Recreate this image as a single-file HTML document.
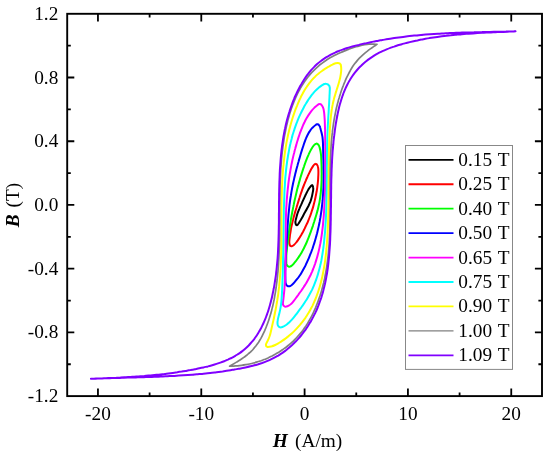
<!DOCTYPE html>
<html><head><meta charset="utf-8"><title>B-H hysteresis loops</title>
<style>html,body{margin:0;padding:0;background:#fff}svg{display:block}</style></head>
<body>
<svg width="550" height="456" viewBox="0 0 550 456">
<rect width="550" height="456" fill="#fff"/>
<g fill="none" stroke-width="2" stroke-linejoin="round" stroke-linecap="round">
<path d="M301.1 204.9C301.6 203.7 302.2 202.4 302.7 201.2C303.3 200.0 303.8 198.7 304.4 197.5C305.0 196.2 305.6 194.8 306.3 193.5C306.9 192.2 307.6 190.9 308.3 189.6C309.0 188.5 309.7 187.4 310.8 186.3C311.1 185.8 311.6 185.3 312.0 185.2C312.1 185.1 312.2 185.1 312.3 185.2C312.4 185.2 312.5 185.3 312.6 185.5C312.9 185.9 313.0 186.6 313.1 187.2C313.3 188.1 313.3 189.0 313.2 189.8C313.0 191.2 312.7 192.6 312.4 194.1C312.2 195.4 311.9 196.7 311.5 198.0C311.2 199.3 310.8 200.6 310.3 201.9C309.8 203.1 309.2 204.3 308.7 205.5C308.1 206.7 307.4 207.9 306.8 209.1C306.1 210.2 305.4 211.4 304.8 212.6C304.1 213.8 303.5 215.0 302.9 216.2C302.3 217.4 301.6 218.5 300.9 219.7C300.1 220.9 299.3 222.2 298.6 223.5C298.3 223.9 298.0 224.3 297.6 224.7C297.5 224.8 297.3 224.9 297.2 225.0C297.0 225.1 296.9 225.2 296.7 225.2C296.6 225.2 296.5 225.1 296.4 225.0C296.1 224.9 296.0 224.5 295.8 224.2C295.6 223.6 295.5 223.0 295.4 222.5C295.4 221.7 295.4 221.1 295.6 220.4C295.9 219.0 296.4 217.6 296.7 216.1C297.1 214.8 297.5 213.5 297.9 212.3C298.4 211.0 298.9 209.8 299.4 208.6C299.9 207.3 300.5 206.1 301.1 204.9Z" stroke="#000000"/>
<path d="M297.3 204.9C297.7 203.6 298.1 202.4 298.5 201.1C298.9 199.8 299.3 198.5 299.7 197.3C300.1 196.0 300.5 194.7 300.9 193.5C301.4 192.1 301.9 190.6 302.4 189.2C302.9 187.8 303.4 186.4 304.0 185.0C304.5 183.6 305.1 182.2 305.7 180.8C306.2 179.5 306.8 178.1 307.5 176.7C308.0 175.5 308.6 174.3 309.2 173.1C309.8 171.9 310.4 170.7 311.0 169.6C311.7 168.4 312.3 167.2 313.1 166.1C313.4 165.5 313.8 165.0 314.4 164.5C314.7 164.3 315.0 164.1 315.3 164.0C315.4 163.9 315.6 163.9 315.7 163.9C315.9 163.8 316.0 163.9 316.2 163.9C316.3 164.0 316.4 164.1 316.6 164.2C316.8 164.4 317.0 164.6 317.2 165.0C317.6 165.6 317.9 166.3 318.0 166.9C318.4 168.4 318.4 169.9 318.4 171.4C318.4 172.9 318.4 174.4 318.3 175.9C318.2 177.2 318.2 178.5 318.1 179.9C318.0 181.2 317.8 182.5 317.7 183.8C317.5 185.2 317.4 186.5 317.2 187.8C317.0 189.1 316.8 190.5 316.6 191.8C316.3 193.1 316.1 194.4 315.8 195.7C315.6 197.0 315.3 198.3 315.0 199.6C314.7 200.9 314.4 202.2 314.0 203.5C313.7 204.8 313.4 206.1 313.0 207.4C312.6 208.8 312.1 210.3 311.6 211.7C311.2 213.1 310.7 214.5 310.2 215.9C309.6 217.3 309.1 218.7 308.5 220.1C308.0 221.5 307.4 222.9 306.7 224.2C306.2 225.4 305.6 226.6 305.0 227.8C304.4 229.1 303.8 230.2 303.2 231.4C302.5 232.6 301.9 233.8 301.2 235.0C300.5 236.1 299.8 237.3 299.1 238.4C298.3 239.7 297.5 240.9 296.6 242.0C295.8 243.0 295.0 244.0 293.9 244.9C293.3 245.4 292.6 245.9 292.0 246.2C291.8 246.2 291.7 246.3 291.5 246.3C291.4 246.3 291.2 246.3 291.1 246.3C291.0 246.3 290.8 246.2 290.7 246.1C290.5 246.0 290.2 245.7 290.0 245.4C289.8 245.0 289.6 244.4 289.5 243.9C289.3 243.1 289.3 242.2 289.3 241.4C289.4 239.9 289.6 238.4 289.8 236.9C289.9 235.4 290.1 234.0 290.4 232.5C290.6 231.0 290.9 229.5 291.1 228.1C291.4 226.6 291.8 225.1 292.1 223.7C292.4 222.2 292.8 220.8 293.2 219.3C293.5 217.9 293.9 216.4 294.3 215.0C294.7 213.7 295.0 212.4 295.4 211.1C295.8 209.9 296.2 208.6 296.6 207.3C296.8 206.5 297.0 205.7 297.3 204.9Z" stroke="#ff0000"/>
<path d="M293.7 204.9C293.9 203.6 294.2 202.3 294.5 201.0C294.8 199.7 295.1 198.4 295.4 197.1C295.7 195.8 296.0 194.5 296.3 193.2C296.6 191.9 296.9 190.6 297.2 189.3C297.6 188.0 297.9 186.7 298.3 185.4C298.6 184.2 298.9 182.9 299.3 181.6C299.7 180.3 300.0 179.0 300.4 177.7C300.8 176.5 301.2 175.2 301.6 173.9C302.0 172.6 302.4 171.4 302.8 170.1C303.2 168.8 303.6 167.6 304.1 166.3C304.5 165.0 305.0 163.8 305.4 162.5C305.9 161.3 306.3 160.0 306.8 158.8C307.4 157.4 307.9 156.0 308.6 154.6C309.2 153.3 309.8 151.9 310.5 150.6C311.2 149.3 312.0 148.0 312.8 146.8C313.4 145.9 314.0 145.1 314.8 144.5C315.1 144.2 315.4 144.0 315.7 143.9C315.8 143.8 316.0 143.7 316.1 143.7C316.3 143.7 316.4 143.6 316.6 143.6C316.8 143.6 316.9 143.7 317.1 143.7C317.4 143.8 317.7 144.0 317.9 144.3C318.2 144.5 318.4 144.8 318.6 145.0C319.2 145.9 319.4 146.9 319.7 147.9C320.1 149.2 320.4 150.5 320.6 151.8C320.8 153.1 321.0 154.4 321.1 155.7C321.2 157.1 321.3 158.4 321.3 159.7C321.4 161.1 321.4 162.4 321.5 163.8C321.5 165.1 321.6 166.4 321.6 167.8C321.6 169.1 321.6 170.5 321.6 171.8C321.7 173.1 321.7 174.5 321.6 175.8C321.6 177.3 321.6 178.8 321.6 180.3C321.5 181.8 321.5 183.3 321.4 184.8C321.3 186.3 321.2 187.8 321.1 189.3C321.0 190.7 320.8 192.2 320.7 193.7C320.5 195.2 320.3 196.7 320.1 198.2C319.9 199.6 319.6 201.1 319.4 202.6C319.1 203.9 318.8 205.2 318.5 206.5C318.2 207.8 317.9 209.1 317.6 210.4C317.2 211.7 316.9 213.0 316.5 214.3C316.1 215.6 315.7 216.8 315.3 218.1C314.9 219.4 314.5 220.7 314.1 222.0C313.7 223.2 313.3 224.5 312.9 225.8C312.4 227.2 311.9 228.6 311.4 230.0C310.9 231.4 310.4 232.8 309.9 234.2C309.4 235.6 308.9 237.0 308.3 238.4C307.7 239.8 307.2 241.1 306.6 242.5C306.0 243.9 305.4 245.2 304.7 246.5C304.1 247.9 303.4 249.2 302.7 250.5C302.0 251.7 301.4 252.9 300.7 254.0C300.0 255.2 299.2 256.3 298.5 257.4C297.7 258.5 297.0 259.6 296.2 260.7C295.3 261.8 294.5 262.8 293.6 263.8C292.9 264.6 292.3 265.4 291.4 265.9C291.0 266.2 290.6 266.4 290.1 266.6C289.7 266.6 289.4 266.7 289.0 266.7C288.9 266.6 288.7 266.6 288.6 266.6C288.2 266.5 288.0 266.3 287.7 266.1C287.4 265.8 287.2 265.6 287.0 265.3C286.8 264.8 286.6 264.3 286.5 263.9C286.2 262.5 286.3 261.2 286.3 259.8C286.3 258.5 286.3 257.1 286.3 255.8C286.4 254.3 286.5 252.8 286.7 251.3C286.8 249.8 287.0 248.3 287.1 246.8C287.3 245.4 287.5 243.9 287.6 242.4C287.8 240.9 288.0 239.4 288.2 237.9C288.4 236.4 288.6 235.0 288.8 233.5C289.0 232.0 289.2 230.5 289.4 229.0C289.6 227.5 289.9 226.1 290.1 224.6C290.3 223.1 290.6 221.6 290.8 220.2C291.1 218.7 291.3 217.2 291.6 215.7C291.9 214.2 292.1 212.8 292.4 211.3C292.7 209.8 293.0 208.4 293.3 206.9C293.4 206.2 293.5 205.6 293.7 204.9Z" stroke="#00ff00"/>
<path d="M289.5 204.9C289.7 203.4 289.9 201.9 290.1 200.4C290.3 198.9 290.5 197.5 290.8 196.0C291.0 194.5 291.3 193.0 291.5 191.6C291.8 190.1 292.1 188.6 292.3 187.2C292.6 185.7 292.9 184.3 293.2 182.8C293.6 181.3 293.9 179.9 294.2 178.4C294.5 177.0 294.9 175.5 295.2 174.1C295.6 172.6 296.0 171.2 296.3 169.7C296.7 168.3 297.1 166.8 297.5 165.4C297.8 164.1 298.2 162.8 298.6 161.5C298.9 160.2 299.3 158.9 299.7 157.6C300.1 156.4 300.4 155.1 300.8 153.8C301.2 152.5 301.6 151.2 302.0 149.9C302.4 148.6 302.9 147.3 303.3 146.0C303.7 144.7 304.1 143.4 304.6 142.2C305.0 140.9 305.5 139.6 306.0 138.4C306.5 137.1 307.1 135.9 307.7 134.7C308.4 133.4 309.1 132.1 310.0 130.9C310.7 129.8 311.6 128.7 312.5 127.7C313.4 126.8 314.4 125.8 315.6 125.0C316.0 124.7 316.4 124.4 316.9 124.3C317.0 124.3 317.1 124.3 317.3 124.2C317.4 124.2 317.6 124.3 317.7 124.3C318.0 124.4 318.3 124.5 318.6 124.7C319.0 125.1 319.3 125.5 319.6 126.0C320.0 126.6 320.2 127.3 320.3 127.9C320.6 129.3 320.9 130.6 321.3 131.8C321.7 133.3 322.0 134.7 322.3 136.1C322.6 137.5 322.7 139.0 322.8 140.5C322.9 141.9 323.0 143.2 323.0 144.6C323.0 145.9 323.1 147.3 323.1 148.6C323.1 150.0 323.2 151.3 323.2 152.7C323.3 154.0 323.3 155.4 323.3 156.7C323.4 158.1 323.4 159.4 323.5 160.7C323.5 162.1 323.5 163.4 323.6 164.8C323.6 166.3 323.6 167.7 323.6 169.2C323.7 170.7 323.7 172.2 323.7 173.7C323.7 175.2 323.7 176.7 323.7 178.2C323.7 179.7 323.6 181.2 323.6 182.7C323.6 184.2 323.5 185.7 323.5 187.2C323.4 188.7 323.3 190.2 323.2 191.7C323.1 193.2 323.1 194.7 322.9 196.2C322.8 197.7 322.7 199.2 322.6 200.7C322.4 202.2 322.3 203.7 322.1 205.1C321.9 206.6 321.8 208.1 321.6 209.6C321.4 210.9 321.2 212.3 321.0 213.6C320.8 214.9 320.6 216.2 320.4 217.5C320.1 218.8 319.9 220.2 319.7 221.5C319.4 222.8 319.2 224.1 318.9 225.4C318.6 226.7 318.3 228.0 318.0 229.3C317.7 230.6 317.4 231.9 317.1 233.2C316.7 234.5 316.4 235.8 316.0 237.1C315.7 238.4 315.3 239.7 314.9 241.0C314.6 242.2 314.2 243.5 313.7 244.8C313.3 246.1 312.9 247.3 312.5 248.6C312.0 249.8 311.6 251.1 311.1 252.4C310.6 253.6 310.1 254.8 309.6 256.1C309.1 257.5 308.5 258.9 307.9 260.2C307.3 261.6 306.7 263.0 306.0 264.3C305.4 265.7 304.7 267.0 304.0 268.3C303.3 269.6 302.6 270.9 301.8 272.2C301.1 273.5 300.3 274.8 299.4 276.0C298.7 277.1 297.9 278.2 297.0 279.2C296.2 280.3 295.3 281.3 294.4 282.3C293.5 283.4 292.6 284.4 291.5 285.2C291.1 285.5 290.7 285.8 290.2 286.0C289.9 286.1 289.6 286.2 289.2 286.2C288.9 286.3 288.6 286.3 288.3 286.2C287.9 286.2 287.6 286.0 287.3 285.9C287.1 285.7 286.8 285.5 286.6 285.2C286.4 285.0 286.2 284.7 286.1 284.4C285.9 283.9 285.7 283.5 285.6 282.9C285.4 281.6 285.5 280.1 285.4 278.7C285.4 277.4 285.3 276.0 285.3 274.7C285.3 273.2 285.2 271.7 285.3 270.3C285.3 268.8 285.3 267.3 285.3 265.8C285.4 264.3 285.5 262.8 285.5 261.4C285.6 259.9 285.7 258.4 285.8 256.9C285.9 255.4 285.9 253.9 286.0 252.4C286.1 250.9 286.2 249.4 286.3 247.9C286.4 246.6 286.5 245.3 286.6 243.9C286.7 242.6 286.7 241.2 286.8 239.9C286.9 238.6 287.0 237.2 287.1 235.9C287.1 234.6 287.2 233.2 287.3 231.9C287.4 230.5 287.4 229.2 287.5 227.8C287.6 226.5 287.7 225.2 287.8 223.8C287.9 222.5 288.0 221.2 288.1 219.8C288.2 218.5 288.3 217.1 288.4 215.8C288.5 214.5 288.6 213.1 288.8 211.8C288.9 210.5 289.0 209.2 289.2 207.8C289.3 206.8 289.4 205.8 289.5 204.9Z" stroke="#0000ff"/>
<path d="M286.5 204.9C286.5 203.4 286.6 201.9 286.7 200.4C286.9 198.9 287.0 197.4 287.1 195.9C287.2 194.4 287.4 192.9 287.5 191.5C287.7 190.0 287.8 188.5 288.0 187.0C288.2 185.5 288.3 184.1 288.5 182.6C288.7 181.1 288.9 179.6 289.1 178.1C289.4 176.7 289.6 175.2 289.8 173.7C290.1 172.3 290.3 170.8 290.6 169.3C290.9 167.8 291.1 166.4 291.4 164.9C291.7 163.4 292.0 162.0 292.3 160.5C292.6 159.2 292.9 157.9 293.2 156.6C293.5 155.3 293.8 154.0 294.2 152.7C294.5 151.4 294.8 150.1 295.2 148.8C295.5 147.5 295.9 146.2 296.3 144.9C296.6 143.6 297.0 142.3 297.4 141.0C297.8 139.7 298.2 138.4 298.6 137.1C299.1 135.8 299.5 134.5 299.9 133.2C300.4 131.9 300.9 130.7 301.4 129.4C301.9 128.2 302.4 126.9 302.9 125.7C303.4 124.4 304.0 123.2 304.6 122.0C305.2 120.7 305.9 119.4 306.7 118.1C307.4 116.8 308.2 115.6 309.0 114.4C309.8 113.2 310.6 112.0 311.5 110.9C312.4 109.8 313.4 108.7 314.5 107.6C315.5 106.7 316.6 105.6 317.8 104.8C318.3 104.5 318.7 104.2 319.2 104.1C319.5 104.0 319.8 104.0 320.1 104.1C320.3 104.1 320.6 104.2 320.9 104.4C321.3 104.7 321.6 105.1 321.9 105.5C322.5 106.4 323.0 107.3 323.3 108.3C323.7 109.6 323.9 110.9 324.1 112.3C324.3 113.8 324.4 115.2 324.5 116.7C324.6 118.2 324.7 119.7 324.8 121.1C324.8 122.6 324.9 124.1 324.9 125.6C325.0 127.1 325.0 128.6 325.1 130.1C325.1 131.4 325.1 132.7 325.1 134.1C325.2 135.4 325.2 136.8 325.2 138.1C325.2 139.5 325.2 140.8 325.2 142.2C325.2 143.6 325.2 144.9 325.3 146.3C325.3 147.6 325.3 149.0 325.3 150.3C325.3 151.7 325.3 153.0 325.3 154.4C325.3 155.7 325.3 157.1 325.3 158.4C325.3 159.7 325.3 161.1 325.3 162.4C325.3 163.9 325.3 165.4 325.3 166.9C325.3 168.4 325.3 169.9 325.3 171.4C325.3 172.8 325.2 174.3 325.2 175.8C325.2 177.3 325.2 178.8 325.2 180.3C325.2 181.8 325.1 183.2 325.1 184.7C325.1 186.2 325.0 187.7 325.0 189.2C325.0 190.6 324.9 192.1 324.9 193.6C324.8 195.1 324.8 196.6 324.7 198.1C324.7 199.6 324.6 201.1 324.5 202.5C324.5 204.0 324.4 205.5 324.3 207.0C324.2 208.4 324.2 209.7 324.1 211.0C324.0 212.4 323.9 213.7 323.8 215.1C323.7 216.4 323.6 217.7 323.5 219.1C323.4 220.4 323.2 221.8 323.1 223.1C323.0 224.5 322.9 225.8 322.7 227.2C322.6 228.5 322.4 229.8 322.2 231.2C322.1 232.5 321.9 233.9 321.7 235.2C321.5 236.5 321.3 237.9 321.1 239.2C320.8 240.5 320.6 241.9 320.4 243.2C320.1 244.5 319.9 245.8 319.6 247.1C319.3 248.5 319.0 249.8 318.7 251.1C318.4 252.4 318.1 253.7 317.7 255.0C317.4 256.4 317.0 257.8 316.5 259.3C316.1 260.7 315.6 262.1 315.2 263.5C314.7 264.9 314.2 266.3 313.7 267.7C313.1 269.1 312.6 270.4 312.0 271.8C311.4 273.1 310.8 274.5 310.2 275.8C309.5 277.1 308.8 278.4 308.1 279.7C307.4 281.0 306.7 282.3 306.0 283.5C305.2 284.8 304.4 286.0 303.6 287.3C302.8 288.5 301.9 289.7 301.1 291.0C300.3 292.0 299.5 293.1 298.7 294.2C298.0 295.3 297.1 296.4 296.3 297.5C295.5 298.6 294.7 299.7 293.8 300.8C293.0 301.9 292.1 303.0 291.1 303.9C290.4 304.6 289.6 305.2 288.7 305.7C288.0 306.1 287.2 306.5 286.3 306.6C286.0 306.7 285.7 306.7 285.4 306.7C285.0 306.7 284.7 306.6 284.5 306.4C284.2 306.3 283.9 306.1 283.7 305.8C283.5 305.6 283.4 305.3 283.2 305.0C283.0 304.5 283.0 304.0 282.9 303.5C282.9 302.1 283.2 300.6 283.4 299.2C283.5 297.8 283.7 296.5 283.8 295.1C284.0 293.6 284.1 292.1 284.3 290.6C284.4 289.2 284.5 287.7 284.6 286.3C284.7 284.8 284.8 283.3 284.9 281.9C285.0 280.4 285.0 278.9 285.1 277.4C285.2 276.0 285.2 274.5 285.3 273.0C285.3 271.5 285.4 270.0 285.4 268.5C285.4 267.1 285.5 265.6 285.5 264.1C285.5 262.6 285.5 261.1 285.6 259.6C285.6 258.2 285.6 256.9 285.6 255.6C285.6 254.2 285.6 252.9 285.6 251.6C285.6 250.2 285.6 248.9 285.6 247.6C285.6 246.2 285.6 244.9 285.6 243.5C285.6 242.2 285.6 240.9 285.6 239.5C285.7 238.2 285.7 236.8 285.7 235.5C285.7 234.1 285.7 232.8 285.7 231.5C285.7 230.1 285.7 228.8 285.7 227.4C285.7 226.1 285.8 224.7 285.8 223.4C285.8 222.1 285.8 220.7 285.9 219.4C285.9 218.0 285.9 216.7 286.0 215.4C286.0 214.0 286.1 212.7 286.1 211.4C286.2 210.0 286.2 208.7 286.3 207.4C286.4 206.5 286.4 205.7 286.5 204.9Z" stroke="#ff00ff"/>
<path d="M284.0 205.0C284.0 203.7 284.1 202.3 284.1 201.0C284.2 199.6 284.2 198.3 284.3 197.0C284.3 195.6 284.4 194.3 284.4 192.9C284.5 191.6 284.5 190.3 284.6 188.9C284.7 187.6 284.8 186.2 284.9 184.9C284.9 183.6 285.0 182.2 285.1 180.9C285.2 179.6 285.3 178.2 285.4 176.9C285.6 175.6 285.7 174.2 285.8 172.9C285.9 171.6 286.1 170.2 286.2 168.9C286.4 167.6 286.5 166.2 286.7 164.9C286.9 163.6 287.0 162.3 287.2 161.0C287.4 159.5 287.7 158.0 287.9 156.5C288.1 155.0 288.4 153.6 288.7 152.1C288.9 150.6 289.2 149.2 289.5 147.7C289.8 146.2 290.1 144.8 290.5 143.3C290.8 141.9 291.2 140.4 291.6 139.0C291.9 137.5 292.3 136.1 292.7 134.6C293.2 133.2 293.6 131.8 294.1 130.4C294.5 128.9 295.0 127.5 295.5 126.1C296.0 124.7 296.5 123.3 297.1 121.9C297.6 120.5 298.2 119.1 298.8 117.7C299.3 116.5 299.8 115.3 300.4 114.1C301.0 112.9 301.6 111.7 302.2 110.5C302.8 109.3 303.4 108.1 304.0 107.0C304.7 105.8 305.3 104.6 306.0 103.5C306.7 102.3 307.4 101.2 308.1 100.1C308.9 99.0 309.6 97.8 310.4 96.8C311.2 95.7 312.0 94.6 312.9 93.6C313.8 92.5 314.8 91.3 315.9 90.3C316.8 89.3 317.8 88.5 318.9 87.6C319.9 86.8 321.0 86.0 322.2 85.2C322.9 84.8 323.6 84.3 324.4 84.0C324.9 83.9 325.4 83.7 325.8 83.8C326.2 83.8 326.5 83.8 326.8 83.9C327.3 84.0 327.8 84.3 328.2 84.6C328.5 84.9 328.7 85.1 328.9 85.4C329.2 85.6 329.3 85.9 329.4 86.2C329.6 86.7 329.7 87.2 329.8 87.7C329.9 89.0 329.8 90.4 329.7 91.8C329.7 93.2 329.6 94.6 329.5 95.9C329.5 97.3 329.4 98.7 329.3 100.0C329.2 101.4 329.2 102.7 329.1 104.1C329.0 105.4 328.9 106.7 328.8 108.1C328.8 109.6 328.7 111.1 328.6 112.6C328.5 114.0 328.4 115.5 328.3 117.0C328.2 118.5 328.1 120.0 328.1 121.5C328.0 122.9 327.9 124.4 327.8 125.9C327.8 127.4 327.7 128.9 327.6 130.4C327.6 131.8 327.5 133.3 327.5 134.8C327.4 136.3 327.4 137.8 327.3 139.3C327.3 140.8 327.3 142.3 327.2 143.7C327.2 145.2 327.2 146.7 327.1 148.2C327.1 149.7 327.1 151.2 327.1 152.7C327.1 154.2 327.0 155.7 327.0 157.2C327.0 158.7 327.0 160.1 327.0 161.6C327.0 163.1 327.0 164.6 326.9 166.1C326.9 167.6 326.9 169.1 326.9 170.6C326.9 172.1 326.9 173.6 326.9 175.1C326.9 176.6 326.9 178.1 326.8 179.6C326.8 181.1 326.8 182.6 326.8 184.1C326.8 185.4 326.8 186.8 326.8 188.1C326.7 189.4 326.7 190.8 326.7 192.1C326.7 193.4 326.7 194.8 326.6 196.1C326.6 197.4 326.6 198.8 326.5 200.1C326.5 201.4 326.5 202.8 326.4 204.1C326.4 205.5 326.4 206.8 326.3 208.1C326.3 209.5 326.2 210.8 326.2 212.1C326.1 213.5 326.0 214.8 326.0 216.2C325.9 217.5 325.9 218.8 325.8 220.2C325.7 221.5 325.6 222.8 325.5 224.2C325.5 225.5 325.4 226.9 325.3 228.2C325.2 229.5 325.1 230.9 325.0 232.2C324.9 233.6 324.7 234.9 324.6 236.2C324.5 237.6 324.4 238.9 324.2 240.3C324.1 241.6 324.0 242.9 323.8 244.3C323.6 245.6 323.5 246.9 323.3 248.3C323.1 249.6 322.9 250.9 322.7 252.3C322.5 253.6 322.3 254.9 322.1 256.2C321.9 257.5 321.6 258.9 321.4 260.2C321.1 261.6 320.8 263.1 320.5 264.6C320.1 266.0 319.8 267.5 319.4 268.9C319.0 270.4 318.7 271.8 318.2 273.2C317.8 274.7 317.4 276.1 316.9 277.5C316.4 278.9 316.0 280.3 315.4 281.7C314.9 283.1 314.4 284.4 313.8 285.8C313.2 287.2 312.6 288.5 312.0 289.9C311.3 291.2 310.6 292.5 309.9 293.8C309.2 295.1 308.5 296.4 307.7 297.7C307.0 299.0 306.2 300.3 305.3 301.5C304.6 302.6 303.9 303.7 303.1 304.9C302.3 306.0 301.6 307.1 300.8 308.2C300.0 309.2 299.2 310.3 298.4 311.4C297.6 312.5 296.7 313.6 295.9 314.7C295.1 315.8 294.3 316.8 293.4 317.9C292.6 318.9 291.7 319.9 290.7 320.9C289.7 322.0 288.6 323.0 287.4 323.9C286.3 324.8 285.0 325.6 283.7 326.3C282.9 326.7 282.1 327.1 281.4 327.3C281.0 327.4 280.7 327.4 280.4 327.4C280.1 327.3 279.8 327.2 279.5 327.1C279.2 326.9 278.9 326.7 278.7 326.5C278.5 326.3 278.3 326.0 278.1 325.7C277.9 325.2 277.7 324.7 277.6 324.2C277.4 323.0 277.5 321.7 277.7 320.5C277.9 319.0 278.2 317.6 278.6 316.2C279.0 314.7 279.4 313.3 279.7 311.9C280.0 310.6 280.3 309.2 280.5 307.9C280.7 306.6 281.0 305.3 281.1 304.0C281.3 302.6 281.4 301.3 281.5 300.0C281.6 298.6 281.7 297.3 281.8 295.9C281.9 294.6 282.0 293.3 282.0 291.9C282.1 290.6 282.2 289.3 282.2 287.9C282.3 286.6 282.3 285.3 282.4 283.9C282.4 282.6 282.5 281.2 282.5 279.9C282.6 278.6 282.6 277.2 282.7 275.9C282.7 274.4 282.8 272.9 282.8 271.4C282.8 269.9 282.9 268.4 282.9 266.9C283.0 265.4 283.0 263.9 283.0 262.4C283.0 260.9 283.1 259.4 283.1 257.9C283.1 256.5 283.2 255.0 283.2 253.5C283.2 252.0 283.2 250.5 283.2 249.0C283.3 247.5 283.3 246.0 283.3 244.5C283.3 243.0 283.3 241.5 283.4 240.0C283.4 238.5 283.4 237.0 283.4 235.5C283.4 234.0 283.4 232.5 283.5 231.0C283.5 229.5 283.5 228.0 283.5 226.5C283.6 225.0 283.6 223.5 283.6 222.0C283.6 220.7 283.6 219.4 283.7 218.0C283.7 216.7 283.7 215.4 283.8 214.0C283.8 212.7 283.8 211.3 283.8 210.0C283.9 208.7 283.9 207.3 284.0 206.0C284.0 205.7 284.0 205.3 284.0 205.0Z" stroke="#00ffff"/>
<path d="M281.5 205.0C281.5 203.6 281.6 202.3 281.6 201.0C281.6 199.6 281.6 198.3 281.7 196.9C281.7 195.6 281.7 194.3 281.8 192.9C281.8 191.6 281.9 190.2 281.9 188.9C282.0 187.6 282.0 186.2 282.1 184.9C282.1 183.5 282.2 182.2 282.3 180.9C282.4 179.5 282.4 178.2 282.5 176.9C282.6 175.5 282.7 174.2 282.8 172.9C282.9 171.5 283.0 170.2 283.1 168.9C283.2 167.5 283.3 166.2 283.5 164.9C283.6 163.5 283.7 162.2 283.9 160.9C284.1 159.4 284.2 157.9 284.4 156.4C284.6 154.9 284.8 153.5 285.0 152.0C285.2 150.5 285.5 149.0 285.7 147.5C285.9 146.1 286.2 144.6 286.4 143.1C286.7 141.6 287.0 140.2 287.3 138.7C287.6 137.2 287.9 135.8 288.2 134.3C288.5 132.9 288.9 131.4 289.2 130.0C289.6 128.5 290.0 127.1 290.4 125.6C290.7 124.2 291.2 122.7 291.6 121.3C292.0 119.9 292.4 118.4 292.9 117.0C293.4 115.6 293.8 114.2 294.3 112.8C294.8 111.5 295.2 110.2 295.7 109.0C296.2 107.7 296.7 106.5 297.2 105.3C297.7 104.0 298.2 102.8 298.8 101.5C299.3 100.3 299.9 99.1 300.5 97.9C301.0 96.7 301.6 95.5 302.3 94.3C302.9 93.1 303.6 91.9 304.2 90.8C305.0 89.5 305.8 88.2 306.6 87.0C307.4 85.7 308.3 84.5 309.2 83.3C310.1 82.2 311.0 81.0 312.0 79.9C313.0 78.8 314.0 77.7 315.1 76.7C316.1 75.6 317.2 74.6 318.4 73.7C319.5 72.7 320.7 71.8 321.9 71.0C323.0 70.2 324.2 69.4 325.3 68.7C326.5 68.0 327.6 67.3 328.8 66.7C330.0 66.0 331.2 65.3 332.4 64.7C333.4 64.1 334.5 63.5 335.6 63.2C336.2 63.1 336.9 63.0 337.6 63.0C338.2 63.0 338.7 63.1 339.2 63.3C339.5 63.4 339.8 63.6 340.0 63.8C340.3 64.0 340.5 64.2 340.6 64.5C340.8 64.9 340.9 65.4 341.0 66.0C341.2 67.4 341.3 68.8 341.2 70.2C341.2 71.5 341.0 72.9 340.8 74.2C340.6 75.7 340.3 77.1 340.0 78.6C339.6 80.0 339.2 81.5 338.8 82.9C338.4 84.3 338.0 85.7 337.5 87.2C337.1 88.6 336.6 90.0 336.2 91.4C335.7 92.9 335.3 94.3 334.9 95.7C334.4 97.1 334.0 98.6 333.7 100.0C333.3 101.5 333.0 102.9 332.7 104.4C332.4 105.7 332.2 107.0 332.0 108.4C331.7 109.7 331.6 111.0 331.4 112.3C331.2 113.7 331.0 115.0 330.9 116.3C330.8 117.7 330.6 119.0 330.5 120.4C330.4 121.7 330.3 123.1 330.2 124.4C330.1 125.7 330.0 127.1 329.9 128.4C329.8 129.8 329.8 131.1 329.7 132.4C329.6 133.8 329.6 135.1 329.5 136.5C329.4 137.8 329.4 139.1 329.3 140.5C329.3 141.8 329.2 143.1 329.2 144.5C329.1 146.0 329.1 147.5 329.0 149.0C329.0 150.4 329.0 151.9 328.9 153.4C328.9 154.9 328.9 156.4 328.8 157.9C328.8 159.4 328.8 160.9 328.8 162.4C328.8 163.9 328.8 165.4 328.7 166.9C328.7 168.4 328.7 169.9 328.7 171.4C328.7 172.8 328.7 174.3 328.7 175.8C328.7 177.3 328.7 178.8 328.7 180.3C328.7 181.8 328.6 183.3 328.6 184.8C328.6 186.3 328.6 187.7 328.6 189.2C328.6 190.7 328.6 192.2 328.6 193.7C328.6 195.2 328.6 196.7 328.6 198.2C328.6 199.7 328.5 201.2 328.5 202.7C328.5 204.2 328.5 205.6 328.5 207.1C328.4 208.6 328.4 210.1 328.4 211.6C328.3 213.1 328.3 214.6 328.3 216.1C328.2 217.6 328.2 219.1 328.1 220.6C328.1 221.9 328.0 223.3 328.0 224.6C327.9 225.9 327.9 227.3 327.8 228.6C327.8 230.0 327.7 231.3 327.6 232.6C327.5 234.0 327.5 235.3 327.4 236.6C327.3 238.0 327.2 239.3 327.1 240.7C327.0 242.0 326.9 243.4 326.8 244.7C326.7 246.0 326.6 247.4 326.5 248.7C326.3 250.1 326.2 251.4 326.1 252.8C325.9 254.1 325.8 255.5 325.6 256.8C325.4 258.1 325.3 259.5 325.1 260.8C324.9 262.1 324.7 263.5 324.5 264.8C324.3 266.1 324.1 267.5 323.8 268.8C323.6 270.1 323.4 271.4 323.1 272.8C322.8 274.1 322.6 275.4 322.3 276.7C322.0 278.1 321.6 279.6 321.3 281.1C320.9 282.5 320.5 284.0 320.1 285.4C319.7 286.8 319.3 288.3 318.8 289.7C318.4 291.1 317.9 292.5 317.4 293.9C316.9 295.3 316.4 296.7 315.9 298.0C315.3 299.4 314.7 300.8 314.1 302.1C313.5 303.5 312.9 304.8 312.3 306.1C311.6 307.4 310.9 308.7 310.2 310.0C309.5 311.3 308.8 312.6 308.0 313.8C307.2 315.1 306.4 316.3 305.6 317.6C304.7 318.8 303.9 320.0 303.0 321.2C302.1 322.4 301.1 323.5 300.2 324.7C299.3 325.7 298.4 326.7 297.5 327.7C296.6 328.7 295.6 329.7 294.7 330.6C293.7 331.6 292.7 332.5 291.7 333.4C290.7 334.3 289.6 335.2 288.6 336.1C287.5 336.9 286.5 337.8 285.4 338.6C284.3 339.4 283.2 340.2 282.1 340.9C281.0 341.7 279.8 342.4 278.7 343.1C277.5 343.8 276.4 344.4 275.2 345.0C273.8 345.7 272.5 346.2 271.0 346.6C270.0 346.8 269.0 346.9 268.0 346.9C267.6 346.9 267.3 346.8 267.0 346.7C266.9 346.7 266.7 346.6 266.6 346.5C266.5 346.4 266.4 346.3 266.3 346.2C266.1 346.0 266.0 345.7 266.0 345.3C265.9 345.0 265.9 344.7 266.0 344.3C266.4 343.0 267.2 341.7 267.8 340.5C268.5 339.2 269.0 337.9 269.5 336.5C270.0 335.1 270.4 333.6 270.7 332.2C271.0 330.9 271.3 329.6 271.6 328.3C271.9 326.9 272.2 325.6 272.5 324.3C272.8 323.0 273.1 321.7 273.4 320.4C273.7 319.1 274.0 317.8 274.2 316.5C274.5 315.1 274.8 313.8 275.0 312.5C275.3 311.2 275.6 309.9 275.8 308.6C276.1 307.3 276.3 306.0 276.5 304.6C276.8 303.2 277.0 301.7 277.3 300.2C277.5 298.7 277.7 297.3 278.0 295.8C278.2 294.3 278.4 292.8 278.5 291.3C278.7 289.8 278.9 288.4 279.1 286.9C279.2 285.4 279.4 283.9 279.5 282.4C279.7 280.9 279.8 279.4 279.9 278.0C280.0 276.5 280.1 275.0 280.2 273.5C280.3 272.0 280.4 270.5 280.5 269.0C280.6 267.5 280.7 266.0 280.7 264.5C280.8 263.0 280.9 261.5 280.9 260.1C281.0 258.6 281.0 257.1 281.1 255.6C281.1 254.1 281.1 252.6 281.2 251.1C281.2 249.6 281.2 248.1 281.2 246.6C281.3 245.1 281.3 243.6 281.3 242.1C281.3 240.8 281.3 239.4 281.3 238.1C281.4 236.7 281.4 235.4 281.4 234.1C281.4 232.7 281.4 231.4 281.4 230.1C281.4 228.7 281.4 227.4 281.4 226.1C281.4 224.7 281.4 223.4 281.4 222.1C281.4 220.7 281.4 219.4 281.4 218.0C281.4 216.7 281.4 215.4 281.4 214.0C281.4 212.7 281.5 211.3 281.5 210.0C281.5 208.7 281.5 207.3 281.5 206.0C281.5 205.7 281.5 205.3 281.5 205.0Z" stroke="#ffff00"/>
<path d="M377.0 44.4C375.9 45.1 374.8 45.9 373.6 46.6C372.5 47.4 371.4 48.2 370.3 48.9C369.2 49.7 368.2 50.5 367.1 51.4C366.0 52.2 365.0 53.0 364.0 53.9C362.9 54.9 361.7 55.9 360.7 56.9C359.6 57.9 358.6 59.0 357.6 60.1C356.6 61.3 355.7 62.4 354.8 63.6C353.9 64.8 353.0 66.0 352.2 67.3C351.5 68.4 350.8 69.6 350.2 70.7C349.5 71.9 348.9 73.1 348.3 74.3C347.7 75.5 347.1 76.7 346.5 77.9C346.0 79.1 345.4 80.3 344.9 81.6C344.4 82.8 343.9 84.0 343.4 85.3C342.8 86.7 342.3 88.1 341.8 89.5C341.3 90.9 340.8 92.3 340.4 93.7C339.9 95.1 339.5 96.6 339.1 98.0C338.6 99.4 338.2 100.8 337.9 102.3C337.5 103.7 337.1 105.1 336.8 106.6C336.4 108.0 336.1 109.5 335.8 110.9C335.5 112.4 335.2 113.8 334.9 115.3C334.6 116.7 334.4 118.2 334.1 119.7C333.9 121.1 333.6 122.6 333.4 124.1C333.2 125.5 333.0 127.0 332.8 128.5C332.6 130.0 332.4 131.4 332.3 132.9C332.1 134.4 332.0 135.9 331.8 137.4C331.7 138.9 331.5 140.4 331.4 141.8C331.3 143.3 331.2 144.8 331.1 146.3C331.0 147.7 330.9 149.0 330.9 150.3C330.8 151.7 330.7 153.0 330.7 154.3C330.6 155.7 330.5 157.0 330.5 158.3C330.4 159.7 330.4 161.0 330.4 162.4C330.3 163.7 330.3 165.1 330.3 166.4C330.2 167.7 330.2 169.1 330.2 170.4C330.2 171.8 330.2 173.1 330.2 174.5C330.1 175.8 330.1 177.2 330.1 178.5C330.1 179.9 330.1 181.2 330.1 182.6C330.1 183.9 330.1 185.3 330.1 186.6C330.1 188.0 330.1 189.3 330.1 190.7C330.1 192.0 330.1 193.4 330.1 194.7C330.1 196.1 330.1 197.4 330.1 198.8C330.2 200.1 330.2 201.5 330.2 202.8C330.2 204.2 330.2 205.5 330.2 206.9C330.2 208.2 330.2 209.6 330.1 210.9C330.1 212.3 330.1 213.6 330.1 215.0C330.1 216.3 330.1 217.7 330.1 219.0C330.1 220.4 330.0 221.7 330.0 223.1C330.0 224.4 330.0 225.7 329.9 227.1C329.9 228.4 329.8 229.8 329.8 231.1C329.8 232.5 329.7 233.8 329.6 235.1C329.6 236.5 329.5 237.8 329.4 239.1C329.4 240.5 329.3 241.8 329.2 243.1C329.1 244.6 329.0 246.1 328.9 247.6C328.8 249.1 328.6 250.6 328.5 252.1C328.4 253.6 328.2 255.1 328.0 256.5C327.9 258.0 327.7 259.5 327.5 261.0C327.3 262.5 327.1 263.9 326.9 265.4C326.7 266.9 326.5 268.3 326.2 269.8C326.0 271.3 325.7 272.7 325.4 274.2C325.2 275.7 324.9 277.1 324.6 278.6C324.3 280.0 323.9 281.5 323.6 282.9C323.2 284.4 322.9 285.8 322.5 287.2C322.1 288.7 321.7 290.1 321.3 291.6C320.9 293.0 320.4 294.4 320.0 295.8C319.5 297.3 319.0 298.7 318.5 300.1C318.1 301.3 317.6 302.6 317.1 303.8C316.6 305.1 316.1 306.3 315.6 307.6C315.1 308.8 314.6 310.0 314.0 311.2C313.5 312.5 312.9 313.7 312.3 314.9C311.7 316.1 311.1 317.2 310.4 318.4C309.8 319.6 309.1 320.7 308.4 321.9C307.7 323.2 306.9 324.4 306.1 325.7C305.2 326.9 304.4 328.2 303.5 329.4C302.6 330.6 301.7 331.8 300.8 332.9C299.8 334.1 298.8 335.2 297.8 336.3C296.8 337.5 295.8 338.5 294.7 339.6C293.8 340.5 292.8 341.5 291.8 342.4C290.9 343.2 289.8 344.1 288.8 345.0C287.8 345.8 286.7 346.7 285.7 347.5C284.6 348.3 283.5 349.0 282.4 349.8C281.3 350.6 280.2 351.3 279.1 352.0C277.9 352.7 276.8 353.4 275.6 354.1C274.4 354.7 273.3 355.3 272.1 356.0C270.9 356.6 269.7 357.1 268.5 357.7C267.2 358.2 266.0 358.8 264.8 359.3C263.5 359.8 262.3 360.2 261.0 360.7C259.8 361.1 258.5 361.6 257.2 361.9C255.9 362.3 254.7 362.7 253.4 363.0C252.1 363.4 250.8 363.7 249.5 364.0C248.2 364.3 246.8 364.5 245.5 364.7C244.2 365.0 242.9 365.2 241.6 365.3C240.3 365.5 238.9 365.7 237.6 365.8C236.3 365.9 234.9 366.0 233.6 366.1C232.3 366.1 230.9 366.2 229.6 366.2C230.9 365.5 232.2 364.7 233.5 363.9C234.6 363.3 235.8 362.6 236.9 361.9C238.1 361.2 239.3 360.4 240.4 359.7C241.5 359.0 242.7 358.2 243.8 357.4C244.9 356.6 245.9 355.8 247.0 355.0C248.0 354.1 249.1 353.3 250.0 352.4C251.1 351.3 252.2 350.3 253.2 349.2C254.2 348.1 255.1 346.9 256.0 345.8C256.9 344.6 257.7 343.4 258.6 342.2C259.4 340.9 260.1 339.7 260.9 338.4C261.6 337.1 262.3 335.8 262.9 334.4C263.6 333.1 264.2 331.7 264.8 330.4C265.4 329.0 266.0 327.6 266.5 326.2C267.0 325.0 267.5 323.7 267.9 322.5C268.4 321.2 268.8 320.0 269.2 318.7C269.6 317.4 270.0 316.1 270.4 314.8C270.8 313.6 271.1 312.3 271.5 311.0C271.8 309.7 272.1 308.4 272.5 307.1C272.8 305.7 273.1 304.4 273.4 303.1C273.6 301.8 273.9 300.5 274.2 299.2C274.4 297.8 274.7 296.5 274.9 295.2C275.1 293.9 275.4 292.5 275.6 291.2C275.8 289.9 276.0 288.5 276.2 287.2C276.3 285.9 276.5 284.5 276.7 283.2C276.9 281.9 277.0 280.6 277.2 279.2C277.3 277.9 277.5 276.6 277.6 275.2C277.7 273.9 277.8 272.6 278.0 271.3C278.1 269.8 278.2 268.3 278.3 266.8C278.4 265.3 278.5 263.8 278.6 262.3C278.7 260.8 278.8 259.3 278.9 257.8C279.0 256.3 279.0 254.8 279.1 253.3C279.2 251.8 279.2 250.3 279.3 248.8C279.3 247.3 279.3 245.8 279.4 244.4C279.4 242.9 279.5 241.4 279.5 239.9C279.5 238.4 279.5 236.9 279.6 235.4C279.6 233.9 279.6 232.4 279.6 230.9C279.6 229.4 279.6 227.9 279.6 226.4C279.7 224.9 279.7 223.4 279.7 221.9C279.7 220.4 279.7 219.0 279.7 217.5C279.7 216.0 279.7 214.5 279.7 213.0C279.7 211.5 279.7 210.0 279.7 208.5C279.7 207.0 279.7 205.5 279.8 204.0C279.8 202.5 279.8 201.0 279.8 199.5C279.8 198.0 279.8 196.5 279.9 195.0C279.9 193.5 279.9 192.0 279.9 190.5C280.0 189.0 280.0 187.5 280.0 186.0C280.1 184.6 280.1 183.1 280.2 181.6C280.2 180.1 280.3 178.6 280.4 177.1C280.4 175.6 280.5 174.1 280.6 172.6C280.7 171.2 280.7 169.9 280.8 168.6C280.9 167.2 281.0 165.9 281.1 164.6C281.2 163.2 281.3 161.9 281.4 160.6C281.5 159.2 281.6 157.9 281.8 156.6C281.9 155.2 282.0 153.9 282.2 152.6C282.3 151.2 282.5 149.9 282.7 148.6C282.8 147.2 283.0 145.9 283.2 144.6C283.4 143.2 283.6 141.9 283.8 140.6C284.0 139.2 284.2 137.9 284.4 136.5C284.7 135.2 284.9 133.9 285.2 132.5C285.4 131.2 285.7 129.9 286.0 128.5C286.3 127.2 286.5 125.9 286.9 124.6C287.2 123.3 287.5 121.9 287.8 120.6C288.1 119.3 288.5 118.0 288.9 116.7C289.2 115.4 289.6 114.1 290.0 112.8C290.4 111.6 290.8 110.3 291.2 109.0C291.7 107.7 292.1 106.5 292.6 105.2C293.1 103.8 293.7 102.4 294.2 101.1C294.8 99.7 295.4 98.3 296.0 97.0C296.6 95.6 297.2 94.3 297.9 92.9C298.6 91.6 299.3 90.3 300.0 89.0C300.7 87.8 301.5 86.5 302.2 85.2C303.0 84.0 303.8 82.8 304.6 81.6C305.5 80.4 306.3 79.2 307.2 78.0C308.1 76.9 309.0 75.7 309.9 74.6C310.9 73.5 311.9 72.4 312.9 71.4C313.9 70.3 314.9 69.3 316.0 68.3C317.1 67.3 318.2 66.3 319.3 65.3C320.5 64.4 321.7 63.5 322.9 62.6C324.0 61.8 325.1 61.0 326.2 60.3C327.3 59.5 328.5 58.8 329.7 58.1C330.9 57.4 332.1 56.8 333.3 56.1C334.5 55.5 335.7 54.8 337.0 54.2C338.2 53.6 339.5 53.1 340.8 52.5C342.0 51.9 343.3 51.4 344.6 50.9C345.9 50.4 347.1 49.9 348.4 49.4C349.7 48.9 351.0 48.5 352.2 48.0C353.5 47.6 354.8 47.2 356.0 46.8C357.5 46.4 358.9 46.0 360.3 45.6C361.8 45.3 363.2 45.0 364.6 44.7C366.1 44.5 367.6 44.3 369.0 44.2C370.5 44.1 372.0 44.0 373.5 44.0C374.7 44.1 375.8 44.2 377.0 44.4Z" stroke="#808080" stroke-width="1.7"/>
<path d="M515.5 31.3C514.2 31.4 512.8 31.5 511.5 31.5C510.2 31.6 508.8 31.6 507.5 31.7C506.2 31.7 504.8 31.8 503.5 31.9C502.2 31.9 500.8 32.0 499.5 32.0C498.2 32.1 496.8 32.1 495.5 32.2C494.0 32.3 492.5 32.3 491.0 32.4C489.5 32.5 488.0 32.5 486.5 32.6C485.0 32.7 483.5 32.8 482.0 32.8C480.5 32.9 479.0 33.0 477.5 33.1C476.0 33.2 474.5 33.3 473.1 33.4C471.6 33.5 470.1 33.6 468.6 33.7C467.1 33.8 465.6 33.9 464.1 34.0C462.6 34.1 461.1 34.3 459.6 34.4C458.1 34.5 456.6 34.7 455.1 34.8C453.7 34.9 452.2 35.1 450.7 35.3C449.2 35.4 447.7 35.6 446.2 35.8C444.7 35.9 443.2 36.1 441.8 36.3C440.3 36.5 438.8 36.7 437.3 36.9C436.0 37.1 434.7 37.3 433.3 37.5C432.0 37.7 430.7 37.9 429.4 38.1C428.1 38.4 426.8 38.6 425.4 38.8C424.1 39.1 422.8 39.3 421.5 39.6C420.2 39.8 418.9 40.1 417.5 40.4C416.2 40.6 414.9 40.9 413.6 41.2C412.3 41.5 411.0 41.8 409.7 42.1C408.4 42.5 407.0 42.8 405.7 43.1C404.4 43.5 403.1 43.8 401.8 44.2C400.5 44.6 399.2 44.9 397.9 45.3C396.6 45.7 395.4 46.1 394.1 46.6C392.8 47.0 391.5 47.5 390.3 47.9C389.0 48.4 387.8 48.9 386.6 49.4C385.2 50.0 383.8 50.6 382.4 51.2C381.1 51.9 379.7 52.5 378.4 53.2C377.1 53.9 375.8 54.6 374.5 55.4C373.3 56.2 372.0 57.0 370.8 57.8C369.6 58.6 368.4 59.5 367.2 60.4C366.1 61.3 364.9 62.3 363.8 63.2C362.7 64.2 361.6 65.2 360.6 66.3C359.5 67.3 358.5 68.4 357.5 69.5C356.5 70.6 355.6 71.8 354.7 72.9C353.8 74.1 352.9 75.3 352.1 76.5C351.2 77.8 350.4 79.0 349.7 80.3C348.9 81.6 348.2 82.9 347.5 84.2C346.8 85.5 346.2 86.9 345.6 88.2C345.0 89.6 344.4 91.0 343.8 92.4C343.3 93.6 342.9 94.9 342.4 96.2C342.0 97.4 341.6 98.7 341.2 100.0C340.8 101.3 340.4 102.6 340.0 103.9C339.7 105.2 339.3 106.5 339.0 107.8C338.7 109.1 338.4 110.5 338.1 111.8C337.8 113.1 337.5 114.5 337.3 115.8C337.0 117.1 336.8 118.5 336.5 119.8C336.3 121.1 336.1 122.5 335.8 123.8C335.6 125.1 335.4 126.4 335.2 127.8C335.0 129.1 334.8 130.4 334.7 131.8C334.5 133.1 334.3 134.4 334.2 135.7C334.0 137.1 333.8 138.4 333.7 139.7C333.5 141.2 333.4 142.7 333.3 144.2C333.1 145.7 333.0 147.2 332.9 148.7C332.7 150.2 332.6 151.6 332.5 153.1C332.4 154.6 332.3 156.1 332.2 157.6C332.1 159.1 332.0 160.6 332.0 162.1C331.9 163.5 331.8 165.0 331.8 166.5C331.7 168.0 331.6 169.5 331.6 171.0C331.5 172.5 331.5 173.9 331.5 175.4C331.4 176.9 331.4 178.4 331.3 179.9C331.3 181.4 331.3 182.9 331.2 184.4C331.2 185.8 331.2 187.3 331.2 188.8C331.1 190.3 331.1 191.8 331.1 193.3C331.1 194.8 331.1 196.3 331.1 197.8C331.0 199.3 331.0 200.8 331.0 202.2C331.0 203.7 331.0 205.2 331.0 206.7C330.9 208.2 330.9 209.7 330.9 211.2C330.9 212.7 330.9 214.2 330.8 215.7C330.8 217.0 330.8 218.4 330.8 219.7C330.7 221.1 330.7 222.4 330.7 223.7C330.7 225.1 330.6 226.4 330.6 227.7C330.6 229.1 330.5 230.4 330.5 231.8C330.4 233.1 330.4 234.5 330.3 235.8C330.3 237.1 330.2 238.5 330.2 239.8C330.1 241.2 330.0 242.5 330.0 243.9C329.9 245.2 329.8 246.6 329.7 247.9C329.6 249.3 329.5 250.6 329.4 252.0C329.3 253.3 329.2 254.6 329.1 256.0C329.0 257.3 328.9 258.7 328.7 260.0C328.6 261.3 328.4 262.7 328.3 264.0C328.1 265.3 327.9 266.7 327.8 268.0C327.6 269.3 327.4 270.7 327.2 272.0C327.0 273.3 326.8 274.6 326.5 275.9C326.3 277.3 326.1 278.6 325.8 279.9C325.5 281.4 325.2 282.8 324.9 284.3C324.5 285.7 324.2 287.2 323.8 288.6C323.5 290.1 323.1 291.5 322.7 293.0C322.3 294.4 321.8 295.8 321.4 297.3C320.9 298.7 320.4 300.1 319.9 301.5C319.4 302.9 318.9 304.3 318.4 305.7C317.8 307.1 317.3 308.4 316.7 309.8C316.1 311.2 315.4 312.5 314.8 313.9C314.1 315.2 313.4 316.6 312.7 317.9C312.1 319.1 311.5 320.2 310.8 321.4C310.1 322.5 309.4 323.7 308.7 324.8C308.0 325.9 307.3 327.1 306.5 328.2C305.8 329.3 305.0 330.4 304.2 331.4C303.3 332.6 302.4 333.8 301.5 335.0C300.5 336.2 299.6 337.3 298.6 338.4C297.6 339.5 296.6 340.6 295.5 341.7C294.5 342.8 293.4 343.8 292.4 344.8C291.3 345.8 290.2 346.8 289.0 347.8C287.9 348.8 286.7 349.7 285.6 350.6C284.4 351.5 283.2 352.3 282.0 353.2C280.7 354.0 279.5 354.8 278.2 355.6C277.0 356.3 275.7 357.1 274.4 357.7C273.1 358.4 271.7 359.1 270.4 359.7C269.0 360.3 267.7 360.9 266.3 361.4C264.9 362.0 263.5 362.5 262.1 363.0C260.8 363.4 259.5 363.8 258.3 364.2C257.0 364.6 255.7 365.0 254.4 365.3C253.1 365.7 251.8 366.0 250.5 366.3C249.1 366.6 247.8 366.9 246.5 367.2C245.2 367.5 243.9 367.8 242.5 368.1C241.2 368.3 239.9 368.6 238.5 368.8C237.2 369.0 235.9 369.3 234.5 369.5C233.2 369.7 231.9 370.0 230.6 370.2C229.2 370.4 227.9 370.6 226.6 370.8C225.2 371.0 223.9 371.2 222.6 371.4C221.3 371.5 219.9 371.7 218.6 371.9C217.3 372.1 216.0 372.2 214.6 372.4C213.2 372.6 211.7 372.8 210.2 372.9C208.7 373.1 207.2 373.3 205.7 373.4C204.2 373.6 202.7 373.7 201.2 373.9C199.8 374.0 198.3 374.2 196.8 374.3C195.3 374.4 193.8 374.6 192.3 374.7C190.8 374.8 189.3 374.9 187.8 375.0C186.3 375.1 184.8 375.2 183.3 375.3C181.8 375.4 180.3 375.5 178.9 375.6C177.4 375.7 175.9 375.8 174.4 375.9C172.9 376.0 171.4 376.1 169.9 376.1C168.4 376.2 166.9 376.3 165.4 376.3C163.9 376.4 162.4 376.5 160.9 376.5C159.4 376.6 157.9 376.7 156.4 376.7C154.9 376.8 153.4 376.8 151.9 376.9C150.6 376.9 149.2 377.0 147.9 377.0C146.6 377.1 145.2 377.1 143.9 377.2C142.6 377.2 141.2 377.2 139.9 377.3C138.6 377.3 137.2 377.4 135.9 377.4C134.6 377.4 133.2 377.5 131.9 377.5C130.6 377.6 129.2 377.6 127.9 377.6C126.6 377.7 125.2 377.7 123.9 377.7C122.6 377.8 121.2 377.8 119.9 377.9C118.6 377.9 117.2 377.9 115.9 378.0C114.6 378.0 113.2 378.0 111.9 378.1C110.6 378.1 109.2 378.2 107.9 378.2C106.6 378.3 105.2 378.3 103.9 378.3C102.6 378.4 101.2 378.4 99.9 378.5C98.6 378.5 97.2 378.6 95.9 378.6C94.6 378.7 93.2 378.7 91.9 378.8C91.6 378.8 91.2 378.8 90.9 378.8C92.4 378.8 93.9 378.7 95.4 378.7C96.9 378.6 98.4 378.6 99.9 378.5C101.3 378.4 102.8 378.4 104.3 378.3C105.7 378.3 107.0 378.2 108.3 378.1C109.7 378.1 111.0 378.0 112.3 378.0C113.7 377.9 115.0 377.8 116.3 377.8C117.7 377.7 119.0 377.6 120.4 377.6C121.7 377.5 123.0 377.4 124.4 377.3C125.7 377.3 127.0 377.2 128.4 377.1C129.7 377.0 131.1 376.9 132.4 376.8C133.7 376.8 135.1 376.7 136.4 376.6C137.7 376.5 139.1 376.4 140.4 376.3C141.8 376.2 143.1 376.1 144.4 376.0C145.8 375.8 147.1 375.7 148.4 375.6C149.8 375.5 151.1 375.4 152.4 375.2C153.8 375.1 155.1 375.0 156.4 374.8C157.8 374.7 159.1 374.6 160.4 374.4C161.7 374.3 163.1 374.1 164.4 374.0C165.7 373.8 167.0 373.7 168.4 373.5C169.9 373.3 171.3 373.1 172.8 372.9C174.3 372.7 175.8 372.5 177.3 372.3C178.8 372.0 180.2 371.8 181.7 371.6C183.2 371.3 184.7 371.1 186.1 370.9C187.6 370.6 189.1 370.3 190.5 370.1C192.0 369.8 193.4 369.5 194.9 369.2C196.4 368.9 197.8 368.7 199.3 368.3C200.7 368.0 202.2 367.7 203.6 367.4C205.0 367.1 206.5 366.7 207.9 366.4C209.4 366.0 210.8 365.6 212.2 365.2C213.7 364.8 215.1 364.4 216.5 363.9C217.8 363.5 219.1 363.1 220.4 362.6C221.6 362.2 222.9 361.7 224.2 361.2C225.5 360.7 226.7 360.1 228.0 359.6C229.2 359.0 230.5 358.4 231.7 357.8C232.9 357.2 234.1 356.5 235.3 355.8C236.5 355.1 237.6 354.4 238.8 353.7C239.9 352.9 241.0 352.2 242.0 351.4C243.2 350.5 244.4 349.5 245.5 348.5C246.6 347.6 247.6 346.5 248.7 345.5C249.7 344.4 250.7 343.3 251.6 342.2C252.6 341.1 253.5 340.0 254.4 338.8C255.2 337.6 256.1 336.4 256.9 335.2C257.7 334.0 258.5 332.7 259.2 331.4C260.0 330.2 260.7 328.9 261.4 327.5C262.0 326.2 262.7 324.9 263.3 323.5C263.9 322.2 264.5 320.8 265.1 319.4C265.6 318.2 266.1 316.9 266.5 315.7C267.0 314.4 267.4 313.1 267.9 311.9C268.3 310.6 268.7 309.3 269.1 308.0C269.5 306.7 269.9 305.4 270.2 304.1C270.6 302.8 270.9 301.5 271.2 300.2C271.6 298.9 271.9 297.6 272.2 296.2C272.5 294.9 272.7 293.6 273.0 292.3C273.3 291.0 273.5 289.7 273.8 288.3C274.0 287.0 274.3 285.7 274.5 284.4C274.7 283.1 274.9 281.8 275.1 280.4C275.3 279.0 275.6 277.5 275.8 276.0C276.0 274.5 276.1 273.0 276.3 271.5C276.5 270.1 276.6 268.6 276.8 267.1C276.9 265.6 277.1 264.1 277.2 262.6C277.3 261.1 277.5 259.6 277.6 258.2C277.7 256.7 277.8 255.2 277.9 253.7C278.0 252.2 278.1 250.7 278.1 249.2C278.2 247.7 278.3 246.2 278.3 244.7C278.4 243.3 278.4 241.8 278.5 240.3C278.5 238.8 278.6 237.3 278.6 235.8C278.7 234.3 278.7 232.8 278.7 231.3C278.8 229.8 278.8 228.3 278.8 226.8C278.8 225.3 278.9 223.8 278.9 222.3C278.9 220.8 278.9 219.3 278.9 217.8C278.9 216.5 278.9 215.2 278.9 213.8C279.0 212.5 279.0 211.2 279.0 209.8C279.0 208.5 279.0 207.1 279.0 205.8C279.0 204.5 279.0 203.1 279.0 201.8C279.1 200.5 279.1 199.1 279.1 197.8C279.1 196.5 279.1 195.1 279.1 193.8C279.2 192.4 279.2 191.1 279.2 189.8C279.2 188.4 279.3 187.1 279.3 185.7C279.3 184.4 279.4 183.1 279.4 181.7C279.5 180.4 279.5 179.0 279.6 177.7C279.6 176.3 279.7 175.0 279.7 173.6C279.8 172.3 279.9 171.0 279.9 169.6C280.0 168.3 280.1 166.9 280.2 165.6C280.3 164.3 280.4 162.9 280.5 161.6C280.6 160.2 280.7 158.9 280.8 157.6C280.9 156.2 281.1 154.9 281.2 153.5C281.3 152.2 281.5 150.9 281.6 149.6C281.8 148.2 282.0 146.9 282.1 145.6C282.3 144.2 282.5 142.9 282.7 141.6C282.9 140.3 283.1 139.0 283.3 137.6C283.6 136.2 283.8 134.7 284.1 133.2C284.4 131.7 284.6 130.3 285.0 128.8C285.3 127.3 285.6 125.9 285.9 124.4C286.3 123.0 286.6 121.5 287.0 120.1C287.4 118.6 287.8 117.2 288.2 115.8C288.6 114.3 289.0 112.9 289.5 111.5C289.9 110.1 290.4 108.7 290.9 107.3C291.4 105.9 291.9 104.5 292.4 103.1C292.9 101.7 293.5 100.3 294.1 98.9C294.6 97.5 295.2 96.2 295.9 94.8C296.5 93.4 297.1 92.1 297.8 90.7C298.4 89.5 299.0 88.4 299.6 87.2C300.3 86.0 300.9 84.8 301.6 83.7C302.3 82.5 303.0 81.4 303.7 80.2C304.4 79.1 305.2 78.0 305.9 76.9C306.7 75.8 307.5 74.7 308.3 73.7C309.2 72.5 310.2 71.3 311.1 70.2C312.1 69.1 313.1 68.0 314.2 66.9C315.2 65.8 316.3 64.8 317.4 63.8C318.5 62.8 319.7 61.9 320.9 61.0C322.0 60.1 323.3 59.2 324.5 58.4C325.6 57.6 326.8 56.9 327.9 56.3C329.1 55.6 330.3 54.9 331.4 54.3C332.6 53.7 333.8 53.1 335.1 52.6C336.3 52.0 337.5 51.5 338.8 51.0C340.0 50.5 341.3 50.0 342.5 49.6C343.8 49.1 345.0 48.7 346.3 48.3C347.6 47.9 348.9 47.5 350.1 47.1C351.6 46.7 353.0 46.3 354.5 45.9C355.9 45.6 357.4 45.2 358.8 44.9C360.1 44.5 361.4 44.2 362.7 43.9C364.0 43.6 365.3 43.4 366.6 43.1C367.9 42.8 369.3 42.5 370.6 42.2C371.9 42.0 373.2 41.7 374.5 41.4C375.8 41.2 377.1 40.9 378.4 40.7C379.7 40.5 381.0 40.2 382.3 40.0C383.7 39.8 385.0 39.5 386.3 39.3C387.6 39.1 388.9 38.9 390.2 38.7C391.6 38.5 392.9 38.3 394.2 38.1C395.7 37.9 397.2 37.7 398.7 37.5C400.1 37.3 401.6 37.1 403.1 36.9C404.6 36.7 406.1 36.5 407.6 36.3C409.1 36.2 410.6 36.0 412.1 35.8C413.5 35.7 415.0 35.5 416.5 35.4C418.0 35.3 419.5 35.1 421.0 35.0C422.5 34.9 424.0 34.7 425.5 34.6C427.0 34.5 428.5 34.4 430.0 34.3C431.3 34.2 432.6 34.1 434.0 34.0C435.3 33.9 436.6 33.8 438.0 33.7C439.3 33.7 440.6 33.6 442.0 33.5C443.3 33.4 444.6 33.4 445.9 33.3C447.3 33.2 448.6 33.2 449.9 33.1C451.3 33.0 452.6 33.0 453.9 32.9C455.3 32.9 456.6 32.8 458.0 32.8C459.3 32.7 460.6 32.7 462.0 32.6C463.3 32.6 464.6 32.5 466.0 32.5C467.3 32.5 468.6 32.4 470.0 32.4C471.3 32.3 472.6 32.3 474.0 32.3C475.3 32.2 476.6 32.2 478.0 32.2C479.3 32.1 480.6 32.1 482.0 32.1C483.3 32.0 484.6 32.0 486.0 32.0C487.3 32.0 488.7 31.9 490.0 31.9C491.3 31.9 492.7 31.9 494.0 31.8C495.3 31.8 496.7 31.8 498.0 31.7C499.3 31.7 500.7 31.7 502.0 31.7C503.3 31.6 504.7 31.6 506.0 31.6C507.3 31.5 508.7 31.5 510.0 31.5C511.3 31.5 512.7 31.4 514.0 31.4C514.5 31.4 515.0 31.4 515.5 31.3Z" stroke="#8000ff"/>
</g>
<rect x="67.2" y="13.8" width="474.8" height="382.3" fill="none" stroke="#000" stroke-width="1.9"/>
<path d="M97.95 396.1v-7.7M97.95 13.8v7.7M149.61 396.1v-3.7M149.61 13.8v3.7M201.28 396.1v-7.7M201.28 13.8v7.7M252.94 396.1v-3.7M252.94 13.8v3.7M304.60 396.1v-7.7M304.60 13.8v7.7M356.26 396.1v-3.7M356.26 13.8v3.7M407.93 396.1v-7.7M407.93 13.8v7.7M459.59 396.1v-3.7M459.59 13.8v3.7M511.25 396.1v-7.7M511.25 13.8v7.7M67.2 364.24h3.6M542.0 364.24h-3.6M67.2 332.38h7.1M542.0 332.38h-7.1M67.2 300.53h3.6M542.0 300.53h-3.6M67.2 268.67h7.1M542.0 268.67h-7.1M67.2 236.81h3.6M542.0 236.81h-3.6M67.2 204.95h7.1M542.0 204.95h-7.1M67.2 173.09h3.6M542.0 173.09h-3.6M67.2 141.23h7.1M542.0 141.23h-7.1M67.2 109.37h3.6M542.0 109.37h-3.6M67.2 77.52h7.1M542.0 77.52h-7.1M67.2 45.66h3.6M542.0 45.66h-3.6" stroke="#000" stroke-width="1.8" fill="none"/>
<g font-family="'Liberation Serif', serif" font-size="19.3" fill="#000">
<text x="97.95" y="420.2" text-anchor="middle">-20</text>
<text x="201.28" y="420.2" text-anchor="middle">-10</text>
<text x="304.60" y="420.2" text-anchor="middle">0</text>
<text x="407.93" y="420.2" text-anchor="middle">10</text>
<text x="511.25" y="420.2" text-anchor="middle">20</text>
<text x="58.3" y="402.20" text-anchor="end">-1.2</text>
<text x="58.3" y="338.48" text-anchor="end">-0.8</text>
<text x="58.3" y="274.77" text-anchor="end">-0.4</text>
<text x="58.3" y="211.05" text-anchor="end">0.0</text>
<text x="58.3" y="147.33" text-anchor="end">0.4</text>
<text x="58.3" y="83.62" text-anchor="end">0.8</text>
<text x="58.3" y="19.90" text-anchor="end">1.2</text>
<text x="307.5" y="446.5" text-anchor="middle" word-spacing="2.5"><tspan font-weight="bold" font-style="italic">H</tspan> (A/m)</text>
<text transform="translate(18.6,205) rotate(-90)" text-anchor="middle" word-spacing="2"><tspan font-weight="bold" font-style="italic">B</tspan> (T)</text>
</g>
<rect x="405.5" y="145.5" width="107.0" height="223.9" fill="#fff" stroke="#888" stroke-width="1"/>
<g font-family="'Liberation Serif', serif" font-size="19.3" fill="#000">
<path d="M408.5 159.80H453.5" stroke="#000000" stroke-width="1.8"/>
<text x="458.3" y="165.80" word-spacing="1.3">0.15 T</text>
<path d="M408.5 184.24H453.5" stroke="#ff0000" stroke-width="1.8"/>
<text x="458.3" y="190.24" word-spacing="1.3">0.25 T</text>
<path d="M408.5 208.68H453.5" stroke="#00ff00" stroke-width="1.8"/>
<text x="458.3" y="214.68" word-spacing="1.3">0.40 T</text>
<path d="M408.5 233.12H453.5" stroke="#0000ff" stroke-width="1.8"/>
<text x="458.3" y="239.12" word-spacing="1.3">0.50 T</text>
<path d="M408.5 257.56H453.5" stroke="#ff00ff" stroke-width="1.8"/>
<text x="458.3" y="263.56" word-spacing="1.3">0.65 T</text>
<path d="M408.5 282.00H453.5" stroke="#00ffff" stroke-width="1.8"/>
<text x="458.3" y="288.00" word-spacing="1.3">0.75 T</text>
<path d="M408.5 306.44H453.5" stroke="#ffff00" stroke-width="1.8"/>
<text x="458.3" y="312.44" word-spacing="1.3">0.90 T</text>
<path d="M408.5 330.88H453.5" stroke="#808080" stroke-width="1.3"/>
<text x="458.3" y="336.88" word-spacing="1.3">1.00 T</text>
<path d="M408.5 355.32H453.5" stroke="#8000ff" stroke-width="1.8"/>
<text x="458.3" y="361.32" word-spacing="1.3">1.09 T</text>
</g>
</svg>
</body></html>
